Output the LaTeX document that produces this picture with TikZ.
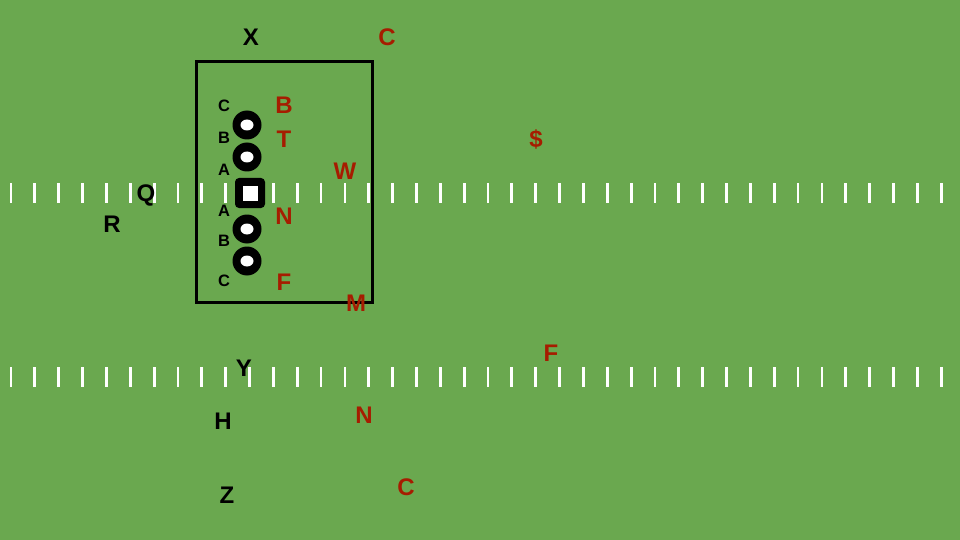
\documentclass[tikz,border=0pt]{standalone}
\usepackage{fontspec}
\usetikzlibrary{shapes.geometric}
\setmainfont{Liberation Sans}
\definecolor{field}{HTML}{6AA84F}
\definecolor{redlab}{HTML}{A61C00}
\begin{document}
\begin{tikzpicture}[x=1pt,y=-1pt,
  big/.style={font=\bfseries\fontsize{24}{24}\selectfont, inner sep=0pt},
  blk/.style={big, text=black},
  red/.style={big, text=redlab},
  small/.style={font=\bfseries\fontsize{16.5}{16.5}\selectfont, inner sep=0pt, text=black},
  hash/.style={draw=white, line width=2.8pt},
  boxline/.style={draw=black, line width=3pt},
  lineman/.style={circle, fill=black, minimum size=29pt, inner sep=0pt},
  hole/.style={ellipse, fill=white, minimum width=13pt, minimum height=11pt, inner sep=0pt},
  center/.style={rectangle, rounded corners=4pt, fill=black, minimum size=30pt, inner sep=0pt},
  chole/.style={rectangle, fill=white, minimum size=15pt, inner sep=0pt}]
\fill[field] (0,0) rectangle (960,540);
\useasboundingbox (0,0) rectangle (960,540);
% box
\draw[boxline] (196,62) rectangle (372,302);
% hash marks
\foreach \i in {0,...,39} {
  \draw[hash] ({11+\i*23.85},183) -- ({11+\i*23.85},203);
  \draw[hash] ({11+\i*23.85},367) -- ({11+\i*23.85},387);
}
% players
\node[lineman] (p1) at (247,125) {};
\node[hole] (h1) at (p1) {};
\node[lineman] (p2) at (247,157) {};
\node[hole] (h2) at (p2) {};
\node[center] (ce) at (250,193) {};
\node[chole] (hc) at (ce) {};
\node[lineman] (p3) at (247,229) {};
\node[hole] (h3) at (p3) {};
\node[lineman] (p4) at (247,261) {};
\node[hole] (h4) at (p4) {};
% small labels
\node[small] (s1) at (224,106) {C};
\node[small] (s2) at (224,138) {B};
\node[small] (s3) at (224,170) {A};
\node[small] (s4) at (224,211) {A};
\node[small] (s5) at (224,241) {B};
\node[small] (s6) at (224,281) {C};
% black labels
\node[blk] (X) at (251,37) {X};
\node[blk] (Q) at (146,195) {Q};
\node[blk] (R) at (112,224) {R};
\node[blk] (Y) at (244,368) {Y};
\node[blk] (H) at (223,421) {H};
\node[blk] (Z) at (227,495) {Z};
% red labels
\node[red] (C1) at (387,37) {C};
\node[red] (B1) at (284,105) {B};
\node[red] (T1) at (284,139) {T};
\node[red] (W1) at (345,171) {W};
\node[red] (D1) at (536,139) {\$};
\node[red] (N1) at (284,216) {N};
\node[red] (F1) at (284,282) {F};
\node[red] (M1) at (356,303) {M};
\node[red] (F2) at (551,353) {F};
\node[red] (N2) at (364,415) {N};
\node[red] (C2) at (406,487) {C};
\end{tikzpicture}
\end{document}
